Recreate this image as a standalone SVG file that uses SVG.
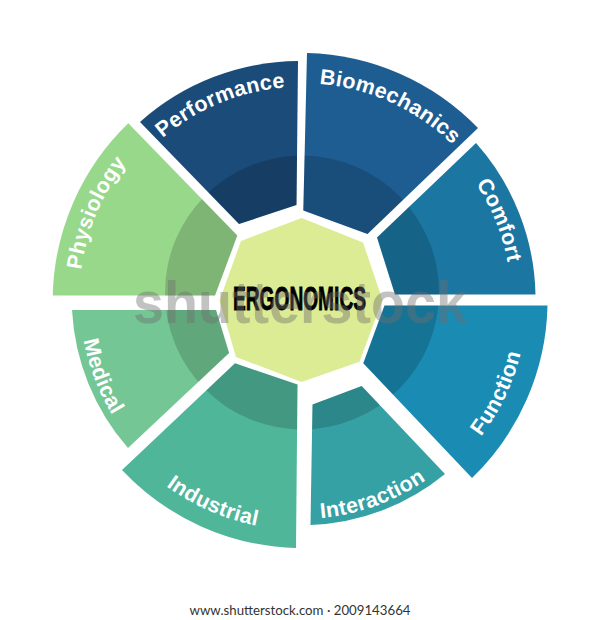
<svg xmlns="http://www.w3.org/2000/svg" width="600" height="620" viewBox="0 0 600 620">
<style>
 .lbl{font-family:"Liberation Sans",Arial,sans-serif;font-weight:700;font-size:21.5px;letter-spacing:0.3px;fill:#ffffff;text-anchor:middle}
 .shade{fill:#000000;fill-opacity:0.16}
 .core{fill:#dcec94}
 .title{font-family:"Liberation Sans",Arial,sans-serif;font-weight:700;font-size:33px;fill:#000000;stroke:#000000;stroke-width:0.9;text-anchor:middle}
 .wm{font-family:"Liberation Sans",Arial,sans-serif;font-weight:700;font-size:60px;fill:#6e6e6e;fill-opacity:0.42;text-anchor:middle}
 .foot{font-family:Lato,"Liberation Sans",sans-serif;font-size:14px;fill:#333333;text-anchor:middle}
</style>
<defs>
 <path id="seg-performance" d="M 239 224 L 140 122 A 240 240 0 0 1 298 61 L 296.5 205 Z"/>
 <path id="seg-biomechanics" d="M 303.3 210.5 L 307 53 A 247 247 0 0 1 478 128 L 367.5 234 Z"/>
 <path id="seg-comfort" d="M 377 237.5 L 476 143 A 235 235 0 0 1 535.5 294.5 L 395 294.5 Z"/>
 <path id="seg-function" d="M 384.5 305.5 L 547.5 305.5 A 247 247 0 0 1 472 478 L 363.3 363.3 Z"/>
 <path id="seg-interaction" d="M 361.7 386 L 445 474 A 225.5 225.5 0 0 1 310.5 525 L 312.5 404.5 Z"/>
 <path id="seg-industrial" d="M 297.5 384.5 L 296 548 A 247.5 247.5 0 0 1 122 470 L 235 363.3 Z"/>
 <path id="seg-medical" d="M 229.1 353.1 L 128 448 A 228.5 228.5 0 0 1 72 310 L 216 310 Z"/>
 <path id="seg-physiology" d="M 215 295.5 L 52.7 295.5 A 247.5 247.5 0 0 1 128.3 123.3 L 237.3 235.6 Z"/>
 <clipPath id="clip-performance"><use href="#seg-performance"/></clipPath>
 <clipPath id="clip-biomechanics"><use href="#seg-biomechanics"/></clipPath>
 <clipPath id="clip-comfort"><use href="#seg-comfort"/></clipPath>
 <clipPath id="clip-function"><use href="#seg-function"/></clipPath>
 <clipPath id="clip-interaction"><use href="#seg-interaction"/></clipPath>
 <clipPath id="clip-industrial"><use href="#seg-industrial"/></clipPath>
 <clipPath id="clip-medical"><use href="#seg-medical"/></clipPath>
 <clipPath id="clip-physiology"><use href="#seg-physiology"/></clipPath>
 <path id="arc-performance" d="M 112.2 201.3 A 213 213 0 0 1 365.4 97.0"/>
 <path id="arc-biomechanics" d="M 243.4 90.8 A 217 217 0 0 1 497.0 206.9"/>
 <path id="arc-comfort" d="M 399.9 114.8 A 210 210 0 0 1 500.6 365.2"/>
 <path id="arc-function" d="M 395.1 505.5 A 226 226 0 0 0 519.7 243.0"/>
 <path id="arc-interaction" d="M 226.1 505.8 A 219 219 0 0 0 490.7 409.5"/>
 <path id="arc-industrial" d="M 95.2 402.6 A 230 230 0 0 0 366.3 520.5"/>
 <path id="arc-medical" d="M 92.0 228.0 A 221 221 0 0 0 193.9 493.3"/>
 <path id="arc-physiology" d="M 88.7 364.9 A 222 222 0 0 1 200.2 102.2"/>
</defs>
<rect width="600" height="620" fill="#ffffff"/>

<g id="node-performance">
 <use href="#seg-performance" fill="#1b4b78"/>
 <circle class="shade" cx="302" cy="292.5" r="137" clip-path="url(#clip-performance)"/>
 <text class="lbl"><textPath href="#arc-performance" startOffset="50%">Performance</textPath></text>
</g>
<g id="node-biomechanics">
 <use href="#seg-biomechanics" fill="#1e5d92"/>
 <circle class="shade" cx="302" cy="292.5" r="137" clip-path="url(#clip-biomechanics)"/>
 <text class="lbl"><textPath href="#arc-biomechanics" startOffset="50%">Biomechanics</textPath></text>
</g>
<g id="node-comfort">
 <use href="#seg-comfort" fill="#1b76a2"/>
 <circle class="shade" cx="302" cy="292.5" r="137" clip-path="url(#clip-comfort)"/>
 <text class="lbl"><textPath href="#arc-comfort" startOffset="50%">Comfort</textPath></text>
</g>
<g id="node-function">
 <use href="#seg-function" fill="#1a8bb3"/>
 <circle class="shade" cx="302" cy="292.5" r="137" clip-path="url(#clip-function)"/>
 <text class="lbl"><textPath href="#arc-function" startOffset="50%">Function</textPath></text>
</g>
<g id="node-interaction">
 <use href="#seg-interaction" fill="#35a1a5"/>
 <circle class="shade" cx="302" cy="292.5" r="137" clip-path="url(#clip-interaction)"/>
 <text class="lbl"><textPath href="#arc-interaction" startOffset="50%">Interaction</textPath></text>
</g>
<g id="node-industrial">
 <use href="#seg-industrial" fill="#50b69a"/>
 <circle class="shade" cx="302" cy="292.5" r="137" clip-path="url(#clip-industrial)"/>
 <text class="lbl"><textPath href="#arc-industrial" startOffset="50%">Industrial</textPath></text>
</g>
<g id="node-medical">
 <use href="#seg-medical" fill="#74c794"/>
 <circle class="shade" cx="302" cy="292.5" r="137" clip-path="url(#clip-medical)"/>
 <text class="lbl"><textPath href="#arc-medical" startOffset="50%">Medical</textPath></text>
</g>
<g id="node-physiology">
 <use href="#seg-physiology" fill="#98d88b"/>
 <circle class="shade" cx="302" cy="292.5" r="137" clip-path="url(#clip-physiology)"/>
 <text class="lbl"><textPath href="#arc-physiology" startOffset="50%">Physiology</textPath></text>
</g>

<g id="node-ergonomics">
 <polygon class="core" points="301.6,218 363,242.5 382.5,300 359.5,361.7 301.5,382 236,357 219.5,300.5 241,241"/>
 <text class="title" x="299.5" y="309.5" textLength="133" lengthAdjust="spacingAndGlyphs">ERGONOMICS</text>
</g>

<text class="wm" x="300" y="323" textLength="334" lengthAdjust="spacingAndGlyphs">shutterstock</text>
<text class="foot" x="300" y="615" textLength="221" lengthAdjust="spacingAndGlyphs">www.shutterstock.com · 2009143664</text>
</svg>
